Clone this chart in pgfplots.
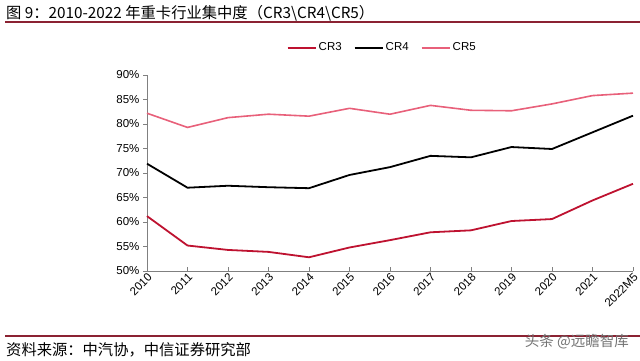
\documentclass[border=0pt]{standalone}
\usepackage{fontspec}
\setmainfont{Liberation Sans}
\newfontfamily\cjk{Noto Sans CJK SC}
\usepackage{pgfplots}
\pgfplotsset{compat=1.18}
\definecolor{crthree}{HTML}{BE1230}
\definecolor{crfive}{HTML}{E8607A}
\definecolor{rulered}{HTML}{8B2232}
\definecolor{axgray}{HTML}{808080}
\begin{document}
\begin{tikzpicture}
\path[use as bounding box] (0pt,0pt) rectangle (640pt,360pt);
\draw[rulered, line width=1.5pt] (5pt,338pt) -- (640pt,338pt);
\node[anchor=west, inner sep=0pt, font=\cjk\fontsize{15.3}{17}\selectfont] at (6pt,347pt) {图 9：2010-2022 年重卡行业集中度（CR3\textbackslash CR4\textbackslash CR5）};
\draw[rulered, line width=1.2pt] (5pt,24pt) -- (640pt,24pt);
\node[anchor=west, inner sep=0pt, font=\cjk\fontsize{15.3}{17}\selectfont] at (6pt,10pt) {资料来源：中汽协，中信证券研究部};
\node[anchor=east, inner sep=0pt, text=black!55, font=\cjk\fontsize{14.5}{16}\selectfont] at (629pt,18pt) {头条 @远瞻智库};
\begin{axis}[
  at={(147pt,89pt)}, anchor=south west, scale only axis,
  width=486pt, height=196pt,
  xmin=0, xmax=12, ymin=50, ymax=90,
  axis x line*=bottom, axis y line*=left,
  axis line style={axgray, line width=0.8pt, -},
  tick style={axgray, line width=0.8pt},
  major tick length=4pt,
  xtick align=inside, ytick align=outside,
  xtick={0,...,12},
  xticklabels={2010,2011,2012,2013,2014,2015,2016,2017,2018,2019,2020,2021,2022M5},
  x tick label style={rotate=45, anchor=north east, font=\fontsize{11.5}{12}\selectfont, inner sep=1pt},
  ytick={50,55,...,90},
  yticklabels={50\%,55\%,60\%,65\%,70\%,75\%,80\%,85\%,90\%},
  y tick label style={font=\fontsize{11.5}{12}\selectfont},
  legend columns=3,
  legend style={at={(0.484,1.14)}, anchor=center, draw=none, font=\fontsize{11.5}{12}\selectfont,
    /tikz/every even column/.append style={column sep=10pt}},
  legend image code/.code={\draw[#1, line width=2pt] (0pt,0pt) -- (28pt,0pt);},
  clip=false,
]
\addplot[crthree, line width=1.8pt] coordinates {(0,61.2)(1,55.2)(2,54.3)(3,53.9)(4,52.8)(5,54.8)(6,56.3)(7,57.9)(8,58.3)(9,60.2)(10,60.6)(11,64.4)(12,67.8)};
\addlegendentry{CR3}
\addplot[black, line width=1.8pt] coordinates {(0,71.9)(1,67.0)(2,67.4)(3,67.1)(4,66.9)(5,69.6)(6,71.2)(7,73.5)(8,73.2)(9,75.3)(10,74.9)(11,78.3)(12,81.7)};
\addlegendentry{CR4}
\addplot[crfive, line width=1.6pt] coordinates {(0,82.2)(1,79.3)(2,81.3)(3,82.0)(4,81.6)(5,83.2)(6,82.0)(7,83.8)(8,82.8)(9,82.7)(10,84.1)(11,85.8)(12,86.3)};
\addlegendentry{CR5}
\end{axis}
\end{tikzpicture}
\end{document}
